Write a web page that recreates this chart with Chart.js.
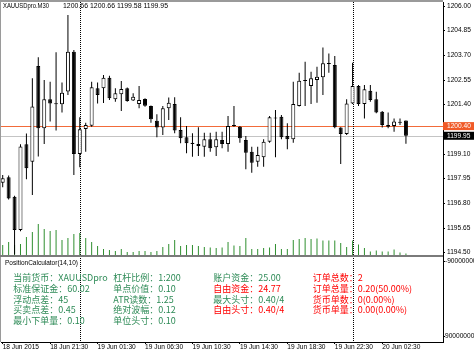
<!DOCTYPE html>
<html>
<head>
<meta charset="utf-8">
<script src="https://cdn.jsdelivr.net/npm/chart.js@4.4.1/dist/chart.umd.min.js"></script>
<style>
  html, body { margin: 0; padding: 0; background: #fff; }
  canvas { display: block; }
</style>
</head>
<body>
<canvas id="chart" width="474" height="355"></canvas>
<script>
// XAUUSDpro M30 bars, oldest first
const opens = [
  1197.76, 1198.02, 1197.11, 1195.56, 1199.55, 1198.74, 1203.20, 1200.30, 1201.65, 1201.45,
  1201.42, 1202.01, 1203.87, 1199.10, 1200.27, 1200.42, 1202.16, 1202.16, 1202.66, 1201.65,
  1201.88, 1202.16, 1201.59, 1201.43, 1201.66, 1201.34, 1200.65, 1200.34, 1201.23, 1201.43,
  1200.22, 1199.88, 1199.63, 1199.57, 1199.44, 1199.79, 1199.41, 1199.75, 1199.57, 1200.42,
  1200.37, 1199.75, 1199.21, 1198.74, 1198.95, 1199.67, 1200.78, 1200.84, 1199.94, 1199.79,
  1201.34, 1202.50, 1202.27, 1202.55, 1202.68, 1203.33, 1203.25, 1200.33, 1200.03, 1201.46,
  1202.27, 1201.43, 1202.05, 1201.65, 1201.07, 1200.45, 1200.41, 1200.56, 1200.66
];
const highs = [
  1198.12, 1198.10, 1197.15, 1199.55, 1200.05, 1202.63, 1203.61, 1202.55, 1202.47, 1203.84,
  1202.43, 1205.58, 1203.95, 1200.81, 1200.56, 1202.47, 1202.43, 1202.78, 1202.75, 1202.16,
  1202.50, 1202.20, 1201.93, 1202.27, 1201.70, 1201.36, 1200.95, 1201.34, 1201.73, 1201.74,
  1200.81, 1200.41, 1200.07, 1200.35, 1200.09, 1200.09, 1200.14, 1200.14, 1200.87, 1201.34,
  1200.41, 1199.94, 1199.44, 1199.44, 1199.79, 1200.87, 1201.15, 1200.92, 1200.53, 1202.47,
  1202.89, 1203.40, 1202.94, 1203.17, 1204.07, 1203.79, 1203.67, 1200.35, 1201.65, 1203.36,
  1202.32, 1202.32, 1202.32, 1202.00, 1201.10, 1201.03, 1200.76, 1200.76, 1200.66
];
const lows = [
  1197.55, 1196.98, 1194.42, 1195.50, 1197.92, 1197.19, 1198.98, 1199.57, 1200.61, 1200.19,
  1201.03, 1201.85, 1198.12, 1198.48, 1199.21, 1200.37, 1201.46, 1201.48, 1201.62, 1201.54,
  1201.10, 1201.54, 1201.57, 1201.23, 1201.30, 1200.56, 1199.88, 1199.99, 1200.69, 1200.07,
  1199.60, 1199.13, 1198.97, 1199.01, 1198.97, 1199.21, 1199.01, 1199.37, 1199.21, 1200.37,
  1199.63, 1198.39, 1198.23, 1198.51, 1198.51, 1199.63, 1198.95, 1199.79, 1199.32, 1199.63,
  1201.31, 1201.34, 1201.43, 1201.49, 1201.85, 1202.89, 1200.30, 1198.63, 1199.99, 1201.43,
  1201.34, 1200.76, 1201.54, 1201.00, 1200.34, 1200.30, 1200.14, 1200.45, 1199.58
];
const closes = [
  1197.97, 1197.03, 1195.56, 1199.45, 1198.43, 1201.31, 1200.30, 1201.65, 1201.46, 1201.42,
  1201.96, 1203.87, 1199.10, 1200.25, 1200.45, 1202.21, 1201.85, 1202.66, 1201.70, 1201.93,
  1202.13, 1201.57, 1201.77, 1201.62, 1201.35, 1200.72, 1200.34, 1201.23, 1201.49, 1200.19,
  1199.83, 1199.60, 1199.57, 1199.47, 1199.79, 1199.37, 1199.79, 1199.57, 1200.41, 1200.40,
  1199.83, 1199.16, 1198.69, 1199.05, 1199.67, 1200.81, 1200.75, 1199.88, 1199.79, 1201.43,
  1202.52, 1202.52, 1202.63, 1202.70, 1203.33, 1203.30, 1200.35, 1200.03, 1201.46, 1202.27,
  1201.43, 1202.12, 1201.62, 1201.03, 1200.45, 1200.37, 1200.61, 1200.58, 1199.95
];
// tick volumes
const volumes = [
  400, 520, 400, 440, 720, 920, 1240, 1040, 960, 1000,
  600, 680, 840, 880, 680, 520, 360, 240, 200, 160,
  240, 120, 120, 160, 160, 120, 160, 320, 440, 600,
  360, 400, 400, 360, 320, 300, 280, 300, 520, 380,
  360, 680, 240, 240, 280, 300, 440, 240, 240, 600,
  640, 680, 640, 660, 580, 580, 580, 480, 320, 580,
  420, 280, 140, 180, 140, 140, 220, 100, 60
];

const timeLabels = ['18 Jun 2015', '18 Jun 21:30', '19 Jun 01:30', '19 Jun 06:30', '19 Jun 10:30',
  '19 Jun 14:30', '19 Jun 18:30', '19 Jun 22:30', '20 Jun 02:30'];
const timeLabelBars = [0, 8, 16, 24, 32, 40, 48, 56, 64];
const priceTicks = [1194.50, 1195.65, 1196.80, 1197.95, 1199.10, 1201.40, 1202.55, 1203.70, 1204.85, 1206.00];
const subTicks = [-90000000, 90000000];
const daySeparatorBars = [13, 59];
const askPrice = 1200.40;
const bidPrice = 1199.95;

const symbolTitle = 'XAUUSDpro.M30';
const panelTitle = 'PositionCalculator(14,10)';
const infoCol1 = ['当前货币：XAUUSDpro', '标准保证金：60.02', '浮动点差：45', '买卖点差：0.45', '最小下单量：0.10'];
const infoCol2 = ['杠杆比例：1:200', '单点价值：0.10', 'ATR读数：1.25', '绝对波幅：0.12', '单位头寸：0.10'];
const infoCol3 = ['账户资金：25.00', '自由资金：24.77', '最大头寸：0.40/4', '自由头寸：0.40/4'];
const infoCol4 = ['订单总数：2', '订单总量：0.20(50.00%)', '货币单数：0(0.00%)', '货币单量：0.00(0.00%)'];

const GREEN = '#2e8b57';
const RED = '#ff0000';
const infoCol3Colors = [GREEN, RED, GREEN, RED];

Chart.defaults.font.family = '"Liberation Sans", Arial, sans-serif';
Chart.defaults.font.size = 6.6;
Chart.defaults.color = '#000';

const idx = opens.map((_, i) => i);

// no padding from labels, fixed axis sizes like the terminal
function noPad(scale) {
  scale.paddingTop = 0;
  scale.paddingBottom = 0;
  scale.paddingLeft = 0;
  scale.paddingRight = 0;
}

const overlay = {
  id: 'mt4Overlay',
  beforeDatasetsDraw(chart) {
    const { ctx, chartArea: a, scales } = chart;
    const price = scales.price;
    const x = scales.x;
    ctx.save();
    ctx.lineWidth = 1;
    // bid line
    let y = Math.round(price.getPixelForValue(bidPrice)) + 0.5;
    ctx.strokeStyle = '#c4c4c4';
    ctx.beginPath(); ctx.moveTo(a.left, y); ctx.lineTo(a.right, y); ctx.stroke();
    // ask line
    y = Math.round(price.getPixelForValue(askPrice)) + 0.5;
    ctx.strokeStyle = '#f26b3a';
    ctx.beginPath(); ctx.moveTo(a.left, y); ctx.lineTo(a.right, y); ctx.stroke();
    // day separators
    ctx.setLineDash([1, 1]);
    ctx.strokeStyle = '#000';
    daySeparatorBars.forEach((b) => {
      const px = Math.round(x.getPixelForValue(b)) + 0.5;
      ctx.beginPath(); ctx.moveTo(px, a.top); ctx.lineTo(px, a.bottom); ctx.stroke();
    });
    ctx.restore();
  },
  afterDraw(chart) {
    const { ctx, chartArea: a, scales } = chart;
    const price = scales.price;
    ctx.save();
    // frame
    ctx.fillStyle = '#9a9a9a';
    ctx.fillRect(0, 0, a.right, a.top);
    ctx.fillRect(0, 0, 1, a.bottom);
    ctx.fillStyle = '#7a7a7a';
    ctx.fillRect(0, price.bottom - 0.5, a.right, 2);

    // price boxes on the axis
    ctx.font = '6.6px "Liberation Sans", Arial, sans-serif';
    ctx.textBaseline = 'middle';
    const boxes = [[askPrice, '#f05a28'], [bidPrice, '#000000']];
    boxes.forEach(([p, col]) => {
      const py = price.getPixelForValue(p);
      ctx.fillStyle = col;
      ctx.fillRect(price.left, py - 4, chart.width - price.left, 8);
      ctx.fillStyle = '#fff';
      ctx.fillText(p.toFixed(2), price.left + 4, py + 0.5);
    });

    // chart title
    const last = opens.length - 1;
    ctx.fillStyle = '#000';
    ctx.font = '7px "Liberation Sans", Arial, sans-serif';
    ctx.fillText(symbolTitle, 3, 6.5, 46);
    const ohlc = [opens[last], highs[last], lows[last], closes[last]].map((v) => v.toFixed(2)).join(' ');
    ctx.fillText(ohlc, 63, 6.5, 105);

    // indicator sub-window
    ctx.fillText(panelTitle, 5, price.bottom + 8, 73);
    ctx.font = '9px "Noto Sans CJK SC", sans-serif';
    const rowY = [277.6, 288.4, 299.2, 310.0, 320.8];
    const cols = [
      [infoCol1, 13.3, () => GREEN],
      [infoCol2, 113.3, () => GREEN],
      [infoCol3, 213.3, (i) => infoCol3Colors[i]],
      [infoCol4, 312.7, () => RED]
    ];
    cols.forEach(([texts, cx, colorOf]) => {
      texts.forEach((t, i) => {
        ctx.fillStyle = colorOf(i);
        ctx.fillText(t, cx, rowY[i]);
      });
    });
    ctx.restore();
  }
};

new Chart(document.getElementById('chart'), {
  type: 'bar',
  data: {
    datasets: [
      {
        label: 'body',
        data: idx.map((i) => ({ x: i, y: [Math.min(opens[i], closes[i]), Math.max(opens[i], closes[i])] })),
        backgroundColor: idx.map((i) => (closes[i] >= opens[i] ? '#ffffff' : '#000000')),
        borderColor: '#000',
        borderWidth: 1,
        borderSkipped: false,
        barThickness: 4,
        inflateAmount: 0,
        minBarLength: 1,
        grouped: false,
        xAxisID: 'x',
        yAxisID: 'price',
        order: 0
      },
      {
        label: 'wick',
        data: idx.map((i) => ({ x: i, y: [lows[i], highs[i]] })),
        backgroundColor: '#000',
        borderWidth: 0,
        barThickness: 1,
        inflateAmount: 0,
        grouped: false,
        xAxisID: 'x',
        yAxisID: 'price',
        order: 1
      },
      {
        label: 'volume',
        data: idx.map((i) => ({ x: i, y: volumes[i] })),
        backgroundColor: '#2f8f2f',
        borderWidth: 0,
        barThickness: 1,
        inflateAmount: 0,
        grouped: false,
        xAxisID: 'x',
        yAxisID: 'vol',
        order: 2
      }
    ]
  },
  options: {
    responsive: false,
    animation: false,
    devicePixelRatio: 1,
    layout: { padding: { top: 2, left: 1, right: 0, bottom: 0 } },
    plugins: { legend: { display: false }, tooltip: { enabled: false } },
    scales: {
      x: {
        type: 'linear',
        position: 'bottom',
        min: -0.287,
        max: 74.25,
        offset: false,
        grid: { offset: false, drawOnChartArea: false, drawTicks: true, tickLength: 2, color: '#000' },
        border: { display: true, color: '#000' },
        ticks: {
          autoSkip: false,
          maxRotation: 0,
          align: 'start',
          padding: 0,
          font: { size: 6.6, lineHeight: 1 },
          callback: (v) => {
            const k = timeLabelBars.indexOf(v);
            return k >= 0 ? timeLabels[k] : '';
          }
        },
        afterBuildTicks: (s) => { s.ticks = timeLabelBars.map((v) => ({ value: v })); },
        afterFit: (s) => { s.height = 13; noPad(s); }
      },
      price: {
        axis: 'y',
        type: 'linear',
        position: 'right',
        stack: 'win',
        stackWeight: 253.5,
        min: 1194.368,
        max: 1206.1865,
        offset: false,
        grid: { drawOnChartArea: false, drawTicks: true, tickLength: 2, color: '#000' },
        border: { display: true, color: '#000' },
        ticks: { autoSkip: false, padding: 2, callback: (v) => Number(v).toFixed(2) },
        afterBuildTicks: (s) => { s.ticks = priceTicks.map((v) => ({ value: v })); },
        afterFit: (s) => { s.width = 31; noPad(s); }
      },
      sub: {
        axis: 'y',
        type: 'linear',
        position: 'right',
        stack: 'win',
        stackWeight: 86.5,
        reverse: true,
        min: -103200000,
        max: 104400000,
        offset: false,
        grid: { drawOnChartArea: false, drawTicks: true, tickLength: 2, color: '#000' },
        border: { display: true, color: '#000' },
        ticks: { autoSkip: false, padding: 0, callback: (v) => String(v) },
        afterBuildTicks: (s) => { s.ticks = subTicks.map((v) => ({ value: v })); },
        afterFit: (s) => { s.width = 31; noPad(s); }
      },
      vol: {
        axis: 'y',
        type: 'linear',
        position: 'left',
        display: false,
        min: -3480,
        max: 10120,
        offset: false,
        grid: { display: false }
      }
    }
  },
  plugins: [overlay]
});
</script>
</body>
</html>
